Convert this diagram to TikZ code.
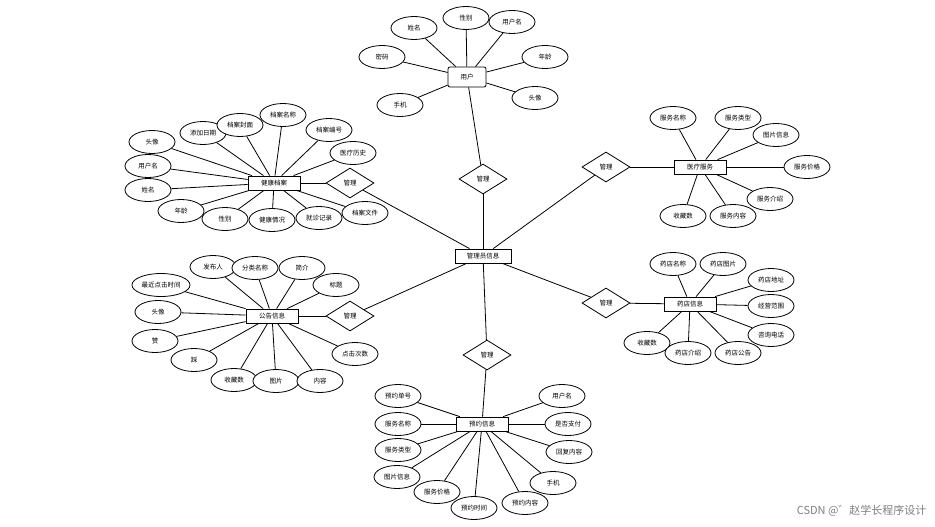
\documentclass[tikz,border=0pt]{standalone}
\usepackage{fontspec}
\newfontfamily\cjk{Noto Sans CJK SC}
\usetikzlibrary{shapes.geometric}
\begin{document}
\begin{tikzpicture}[x=1pt,y=-1pt,font=\cjk\fontsize{6.5}{7}\selectfont,
 att/.style={ellipse,draw,thick,minimum width=46pt,minimum height=23pt,inner sep=0pt,fill=white},
 en/.style={rectangle,draw,thick,minimum width=52pt,minimum height=14pt,inner sep=1pt,fill=white},
 rel/.style={diamond,draw,thick,minimum width=48pt,minimum height=30pt,inner sep=0pt,aspect=1.6,fill=white},
 ln/.style={draw,thick}]
\useasboundingbox (0,0) rectangle (935,527);
\fill[white] (0,0) rectangle (935,527);
\node[en,minimum width=56pt] (M) at (483,256) {管理员信息};
\node[en,rounded corners=2pt,minimum width=38pt,minimum height=20pt] (U) at (467,77) {用户};
\node[rel] (R0) at (483,179) {管理};
\node[rel] (R1) at (350,183) {管理};
\node[rel] (R2) at (350,316) {管理};
\node[rel] (R3) at (606,167) {管理};
\node[rel] (R4) at (606,303) {管理};
\node[rel] (R5) at (487,355) {管理};
\node[en] (H) at (274,183) {健康档案};
\node[en] (G) at (272,316) {公告信息};
\node[en] (S) at (700,167) {医疗服务};
\node[en] (P) at (690,304) {药店信息};
\node[en] (Y) at (482,424) {预约信息};
\foreach \r in {R0,R1,R2,R3,R4,R5} \draw[ln] (M) -- (\r);
\draw[ln] (R0) -- (U); \draw[ln] (R1) -- (H); \draw[ln] (R2) -- (G);
\draw[ln] (R3) -- (S); \draw[ln] (R4) -- (P); \draw[ln] (R5) -- (Y);
\foreach \n/\x/\y/\t in {u1/414/28/姓名,u2/466/18/性别,u3/512/22/用户名,u4/545/57/年龄,u5/535/98/头像,u6/382/57/密码,u7/400/105/手机}
 {\node[att] (\n) at (\x,\y) {\t}; \draw[ln] (U) -- (\n);}
\foreach \n/\x/\y/\t in {h1/152/142/头像,h2/203/133/添加日期,h3/240/125/档案封面,h4/283/115/档案名称,h5/329/130/档案编号,h6/353/153/医疗历史,h7/148/166/用户名,h8/148/190/姓名,h9/181/211/年龄,h10/225/219/性别,h11/272/220/健康情况,h12/319/218/就诊记录,h13/365/213/档案文件}
 {\node[att] (\n) at (\x,\y) {\t}; \draw[ln] (H) -- (\n);}
\foreach \n/\x/\y/\t in {g1/213/267/发布人,g2/255/268/分类名称,g3/302/268/简介,g4/336/285/标题,g6/158/312/头像,g7/155/341/赞,g8/194/360/踩,g9/234/380/收藏数,g10/276/381/图片,g11/320/381/内容,g12/355/354/点击次数}
 {\node[att] (\n) at (\x,\y) {\t}; \draw[ln] (G) -- (\n);}
\node[att,minimum width=58pt] (g5) at (161,285) {最近点击时间}; \draw[ln] (G) -- (g5);
\foreach \n/\x/\y/\t in {s1/673/118/服务名称,s2/738/118/服务类型,s3/776/135/图片信息,s4/807/167/服务价格,s5/770/199/服务介绍,s6/683/216/收藏数,s7/733/216/服务内容}
 {\node[att] (\n) at (\x,\y) {\t}; \draw[ln] (S) -- (\n);}
\foreach \n/\x/\y/\t in {p1/673/264/药店名称,p2/723/264/药店图片,p3/771/280/药店地址,p4/771/306/经营范围,p5/771/335/咨询电话,p6/647/343/收藏数,p7/688/353/药店介绍,p8/738/353/药店公告}
 {\node[att] (\n) at (\x,\y) {\t}; \draw[ln] (P) -- (\n);}
\foreach \n/\x/\y/\t in {y1/398/396/预约单号,y2/398/424/服务名称,y3/398/450/服务类型,y4/397/477/图片信息,y5/437/492/服务价格,y6/474/508/预约时间,y7/562/396/用户名,y8/568/424/是否支付,y9/569/452/回复内容,y10/553/483/手机,y11/525/503/预约内容}
 {\node[att] (\n) at (\x,\y) {\t}; \draw[ln] (Y) -- (\n);}
\node[text=gray,font=\cjk\fontsize{11}{12}\selectfont,anchor=east] (wm) at (930,511) {CSDN @゛赵学长程序设计};
\end{tikzpicture}
\end{document}
